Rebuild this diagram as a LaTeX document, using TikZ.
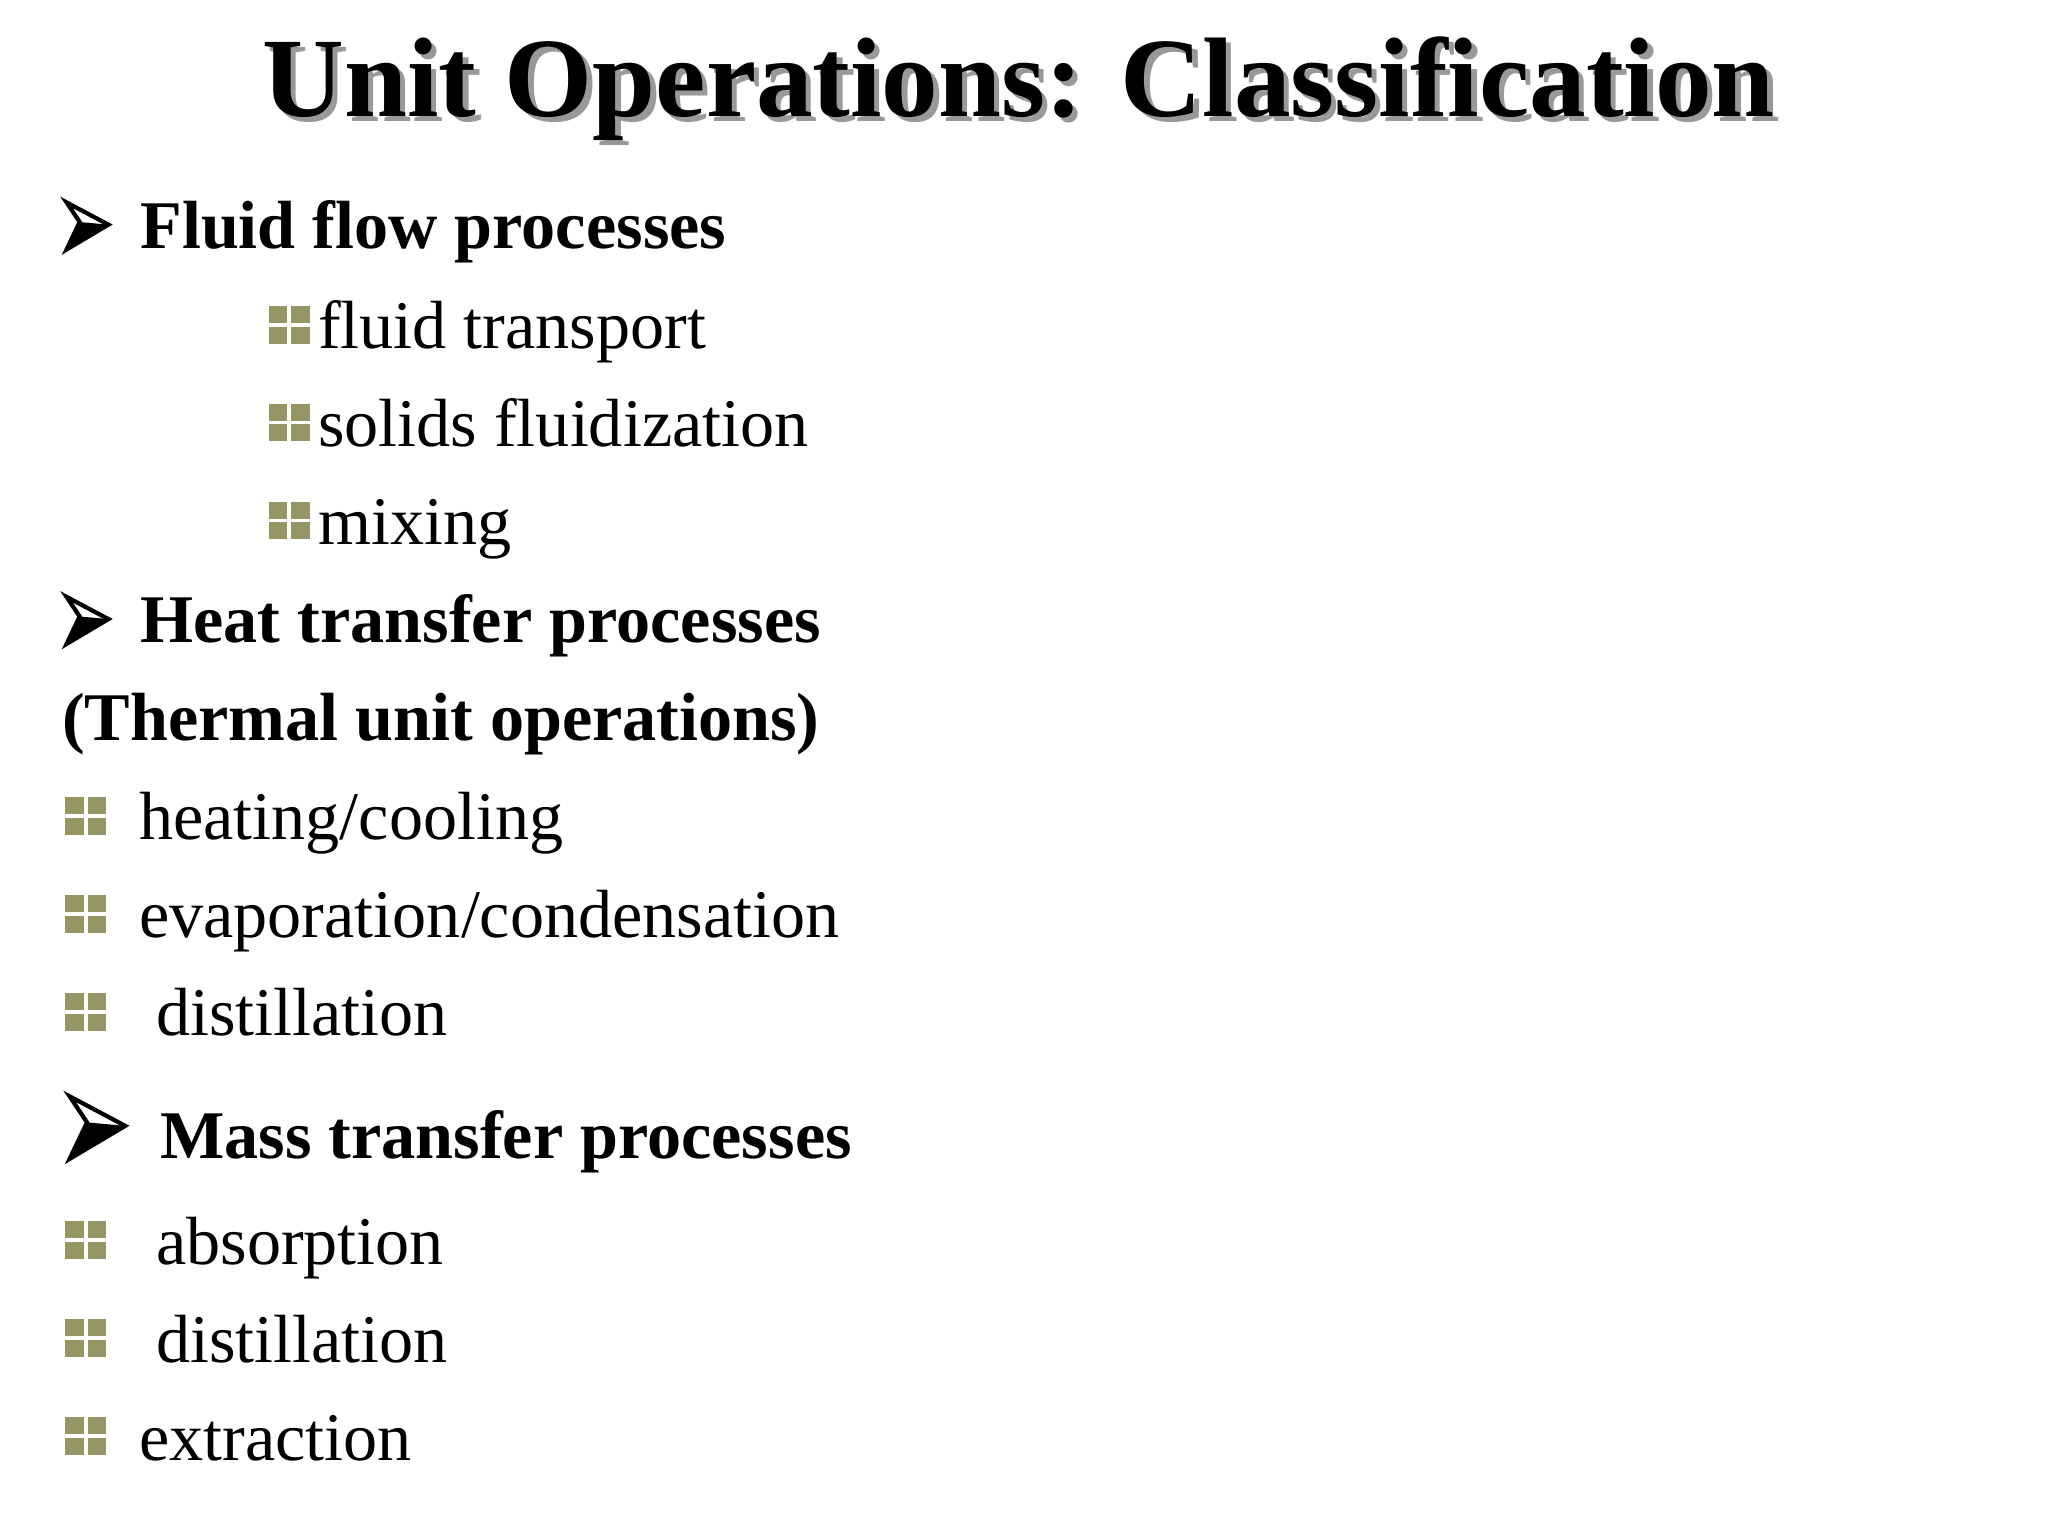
\documentclass[tikz,border=0pt]{standalone}
\usepackage{fontspec}
\setmainfont{Liberation Serif}
\definecolor{olive}{RGB}{150,150,100}
\tikzset{
  lbl/.style={anchor=base west, inner sep=0pt, font=\fontsize{19.4}{23}\selectfont},
  hd/.style={lbl, font=\fontsize{19.4}{23}\selectfont\bfseries},
}
\newcommand{\sqbul}[2]{%
  \fill[olive] (#1,#2-15) rectangle +(14,13);
  \fill[olive] (#1+17,#2-15) rectangle +(14,13);
  \fill[olive] (#1,#2+1) rectangle +(14,13);
  \fill[olive] (#1+17,#2+1) rectangle +(14,13);}
\newcommand{\arrbul}[3]{% x, y center, scale
  \begin{scope}[shift={(#1,#2)}, scale=#3]
  \fill[black] (11,-2) -- (33,0) -- (1,19) -- cycle;
  \draw[line width=1.2pt, line join=miter] (1,-17) -- (33,0) -- (1,19) -- (11,-2) -- cycle;
  \end{scope}}
\begin{document}
\begin{tikzpicture}[x=0.01306cm, y=-0.01306cm]
\useasboundingbox (0,0) rectangle (1568,1176);
\fill[white] (0,0) rectangle (1568,1176);
\node[anchor=base, inner sep=0pt, text=black!40, font=\fontsize{32.2}{38}\selectfont\bfseries] (tsh) at (784,93) {Unit Operations: Classification};
\node[anchor=base, inner sep=0pt, font=\fontsize{32.2}{38}\selectfont\bfseries] (title) at (780,89) {Unit Operations: Classification};

\arrbul{50}{172}{1}
\node[hd] (ff) at (107,190) {Fluid flow processes};
\sqbul{206}{249}
\node[lbl] (ft) at (243,267) {fluid transport};
\sqbul{206}{324}
\node[lbl] (sf) at (243,342) {solids fluidization};
\sqbul{206}{399}
\node[lbl] (mx) at (243,417) {mixing};

\arrbul{50}{474}{1}
\node[hd] (ht) at (107,492) {Heat transfer processes};
\node[hd] (tu) at (47,567) {(Thermal unit operations)};
\sqbul{50}{625}
\node[lbl] (hc) at (106,643) {heating/cooling};
\sqbul{50}{700}
\node[lbl] (ec) at (106,718) {evaporation/condensation};
\sqbul{50}{775}
\node[lbl] (d1) at (119,793) {distillation};

\arrbul{52}{862}{1.33}
\node[hd] (mt) at (122,887) {Mass transfer processes};
\sqbul{50}{950}
\node[lbl] (ab) at (119,968) {absorption};
\sqbul{50}{1025}
\node[lbl] (d2) at (119,1043) {distillation};
\sqbul{50}{1100}
\node[lbl] (ex) at (106,1118) {extraction};
\end{tikzpicture}
\end{document}
